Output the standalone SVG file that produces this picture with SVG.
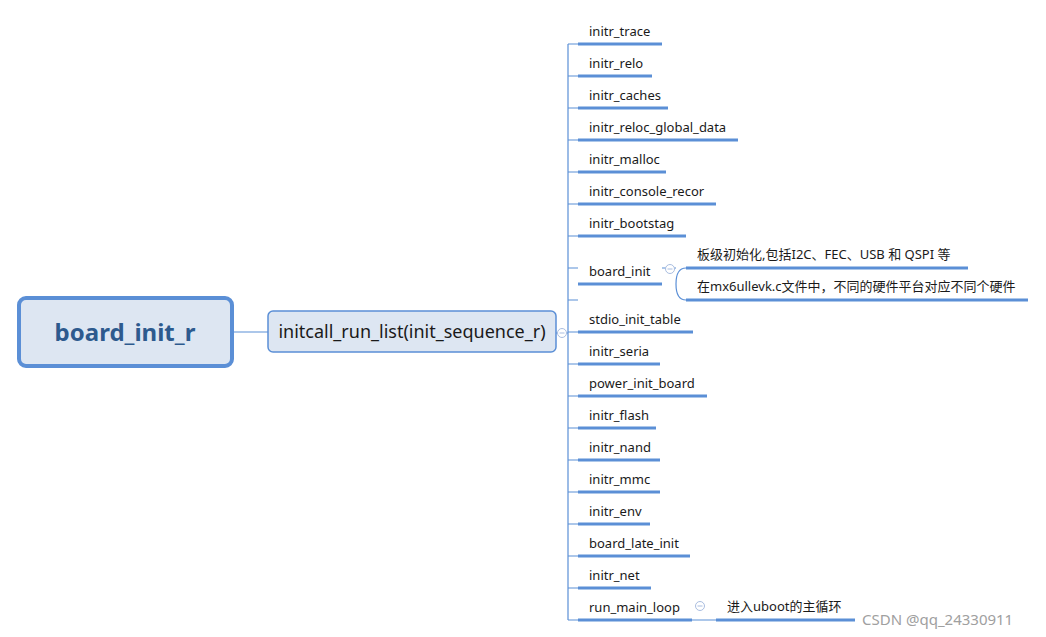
<svg xmlns="http://www.w3.org/2000/svg" width="1046" height="637" viewBox="0 0 1046 637">
<style>
text{font-family:"Noto Sans","Noto Sans CJK SC",sans-serif;fill:#1a1a1a}
.t{font-size:13px}
.u{stroke:#5b8fd6;stroke-width:3;fill:none}
.l{stroke:#5b8fd6;stroke-width:1.2;fill:none}
.c{fill:#fff;stroke:#a9bde0;stroke-width:1}
</style>
<rect width="1046" height="637" fill="#fff"/>
<g id="connectors">
<path class="l" d="M233 332H268M556 333H568M568 44V620"/>
<path class="l" d="M568 44H578M568 76H578M568 108H578M568 140H578M568 172H578M568 204H578M568 236H578M568 268H578M568 300H578M568 332H578M568 364H578M568 396H578M568 428H578M568 460H578M568 492H578M568 524H578M568 556H578M568 588H578M568 620H578"/>
<path class="l" d="M662 268H676M676 284Q676 268 686 268M676 284Q676 300 686 300M692 620H716"/>
<circle class="c" cx="562" cy="333" r="4.5"/>
<circle class="c" cx="670" cy="269" r="4.5"/>
<circle class="c" cx="700" cy="606" r="4.5"/>
<path d="M559.5 333H564.5M667.5 269H672.5M697.5 606H702.5" stroke="#a9bde0"/>
</g>
<g id="root"><rect x="19" y="298" width="213" height="68" rx="7" fill="#dde6f2" stroke="#5b8fd6" stroke-width="4"/><text x="125" y="341" text-anchor="middle" font-size="24" font-weight="bold" style="fill:#2d5a8e">board_init_r</text></g>
<g id="list"><rect x="268" y="311" width="288" height="41" rx="5" fill="#dde6f2" stroke="#5b8fd6" stroke-width="1.5"/><text x="412" y="338" text-anchor="middle" font-size="18">initcall_run_list(init_sequence_r)</text></g>
<g id="n0"><text class="t" x="589" y="36">initr_trace</text><path class="u" d="M578 44H662"/></g>
<g id="n1"><text class="t" x="589" y="68">initr_relo</text><path class="u" d="M578 76H652"/></g>
<g id="n2"><text class="t" x="589" y="100">initr_caches</text><path class="u" d="M578 108H668"/></g>
<g id="n3"><text class="t" x="589" y="132">initr_reloc_global_data</text><path class="u" d="M578 140H738"/></g>
<g id="n4"><text class="t" x="589" y="164">initr_malloc</text><path class="u" d="M578 172H666"/></g>
<g id="n5"><text class="t" x="589" y="196">initr_console_recor</text><path class="u" d="M578 204H716"/></g>
<g id="n6"><text class="t" x="589" y="228">initr_bootstag</text><path class="u" d="M578 236H686"/></g>
<g id="n7"><text class="t" x="589" y="276">board_init</text><path class="u" d="M578 284H662"/></g>
<g id="n7a"><text class="t" x="697" y="259">板级初始化,包括I2C、FEC、USB 和 QSPI 等</text><path class="u" d="M686 268H968"/></g>
<g id="n7b"><text class="t" x="697" y="291">在mx6ullevk.c文件中，不同的硬件平台对应不同个硬件</text><path class="u" d="M686 300H1028"/></g>
<g id="n8"><text class="t" x="589" y="324">stdio_init_table</text><path class="u" d="M578 332H693"/></g>
<g id="n9"><text class="t" x="589" y="356">initr_seria</text><path class="u" d="M578 364H660"/></g>
<g id="n10"><text class="t" x="589" y="388">power_init_board</text><path class="u" d="M578 396H707"/></g>
<g id="n11"><text class="t" x="589" y="420">initr_flash</text><path class="u" d="M578 428H656"/></g>
<g id="n12"><text class="t" x="589" y="452">initr_nand</text><path class="u" d="M578 460H660"/></g>
<g id="n13"><text class="t" x="589" y="484">initr_mmc</text><path class="u" d="M578 492H660"/></g>
<g id="n14"><text class="t" x="589" y="516">initr_env</text><path class="u" d="M578 524H650"/></g>
<g id="n15"><text class="t" x="589" y="548">board_late_init</text><path class="u" d="M578 556H690"/></g>
<g id="n16"><text class="t" x="589" y="580">initr_net</text><path class="u" d="M578 588H651"/></g>
<g id="n17"><text class="t" x="589" y="612">run_main_loop</text><path class="u" d="M578 620H692"/></g>
<g id="n17a"><text class="t" x="727" y="611">进入uboot的主循环</text><path class="u" d="M716 620H855"/></g>
<text x="862" y="625" font-size="15" style="fill:#a0a0a0">CSDN @qq_24330911</text>
</svg>
